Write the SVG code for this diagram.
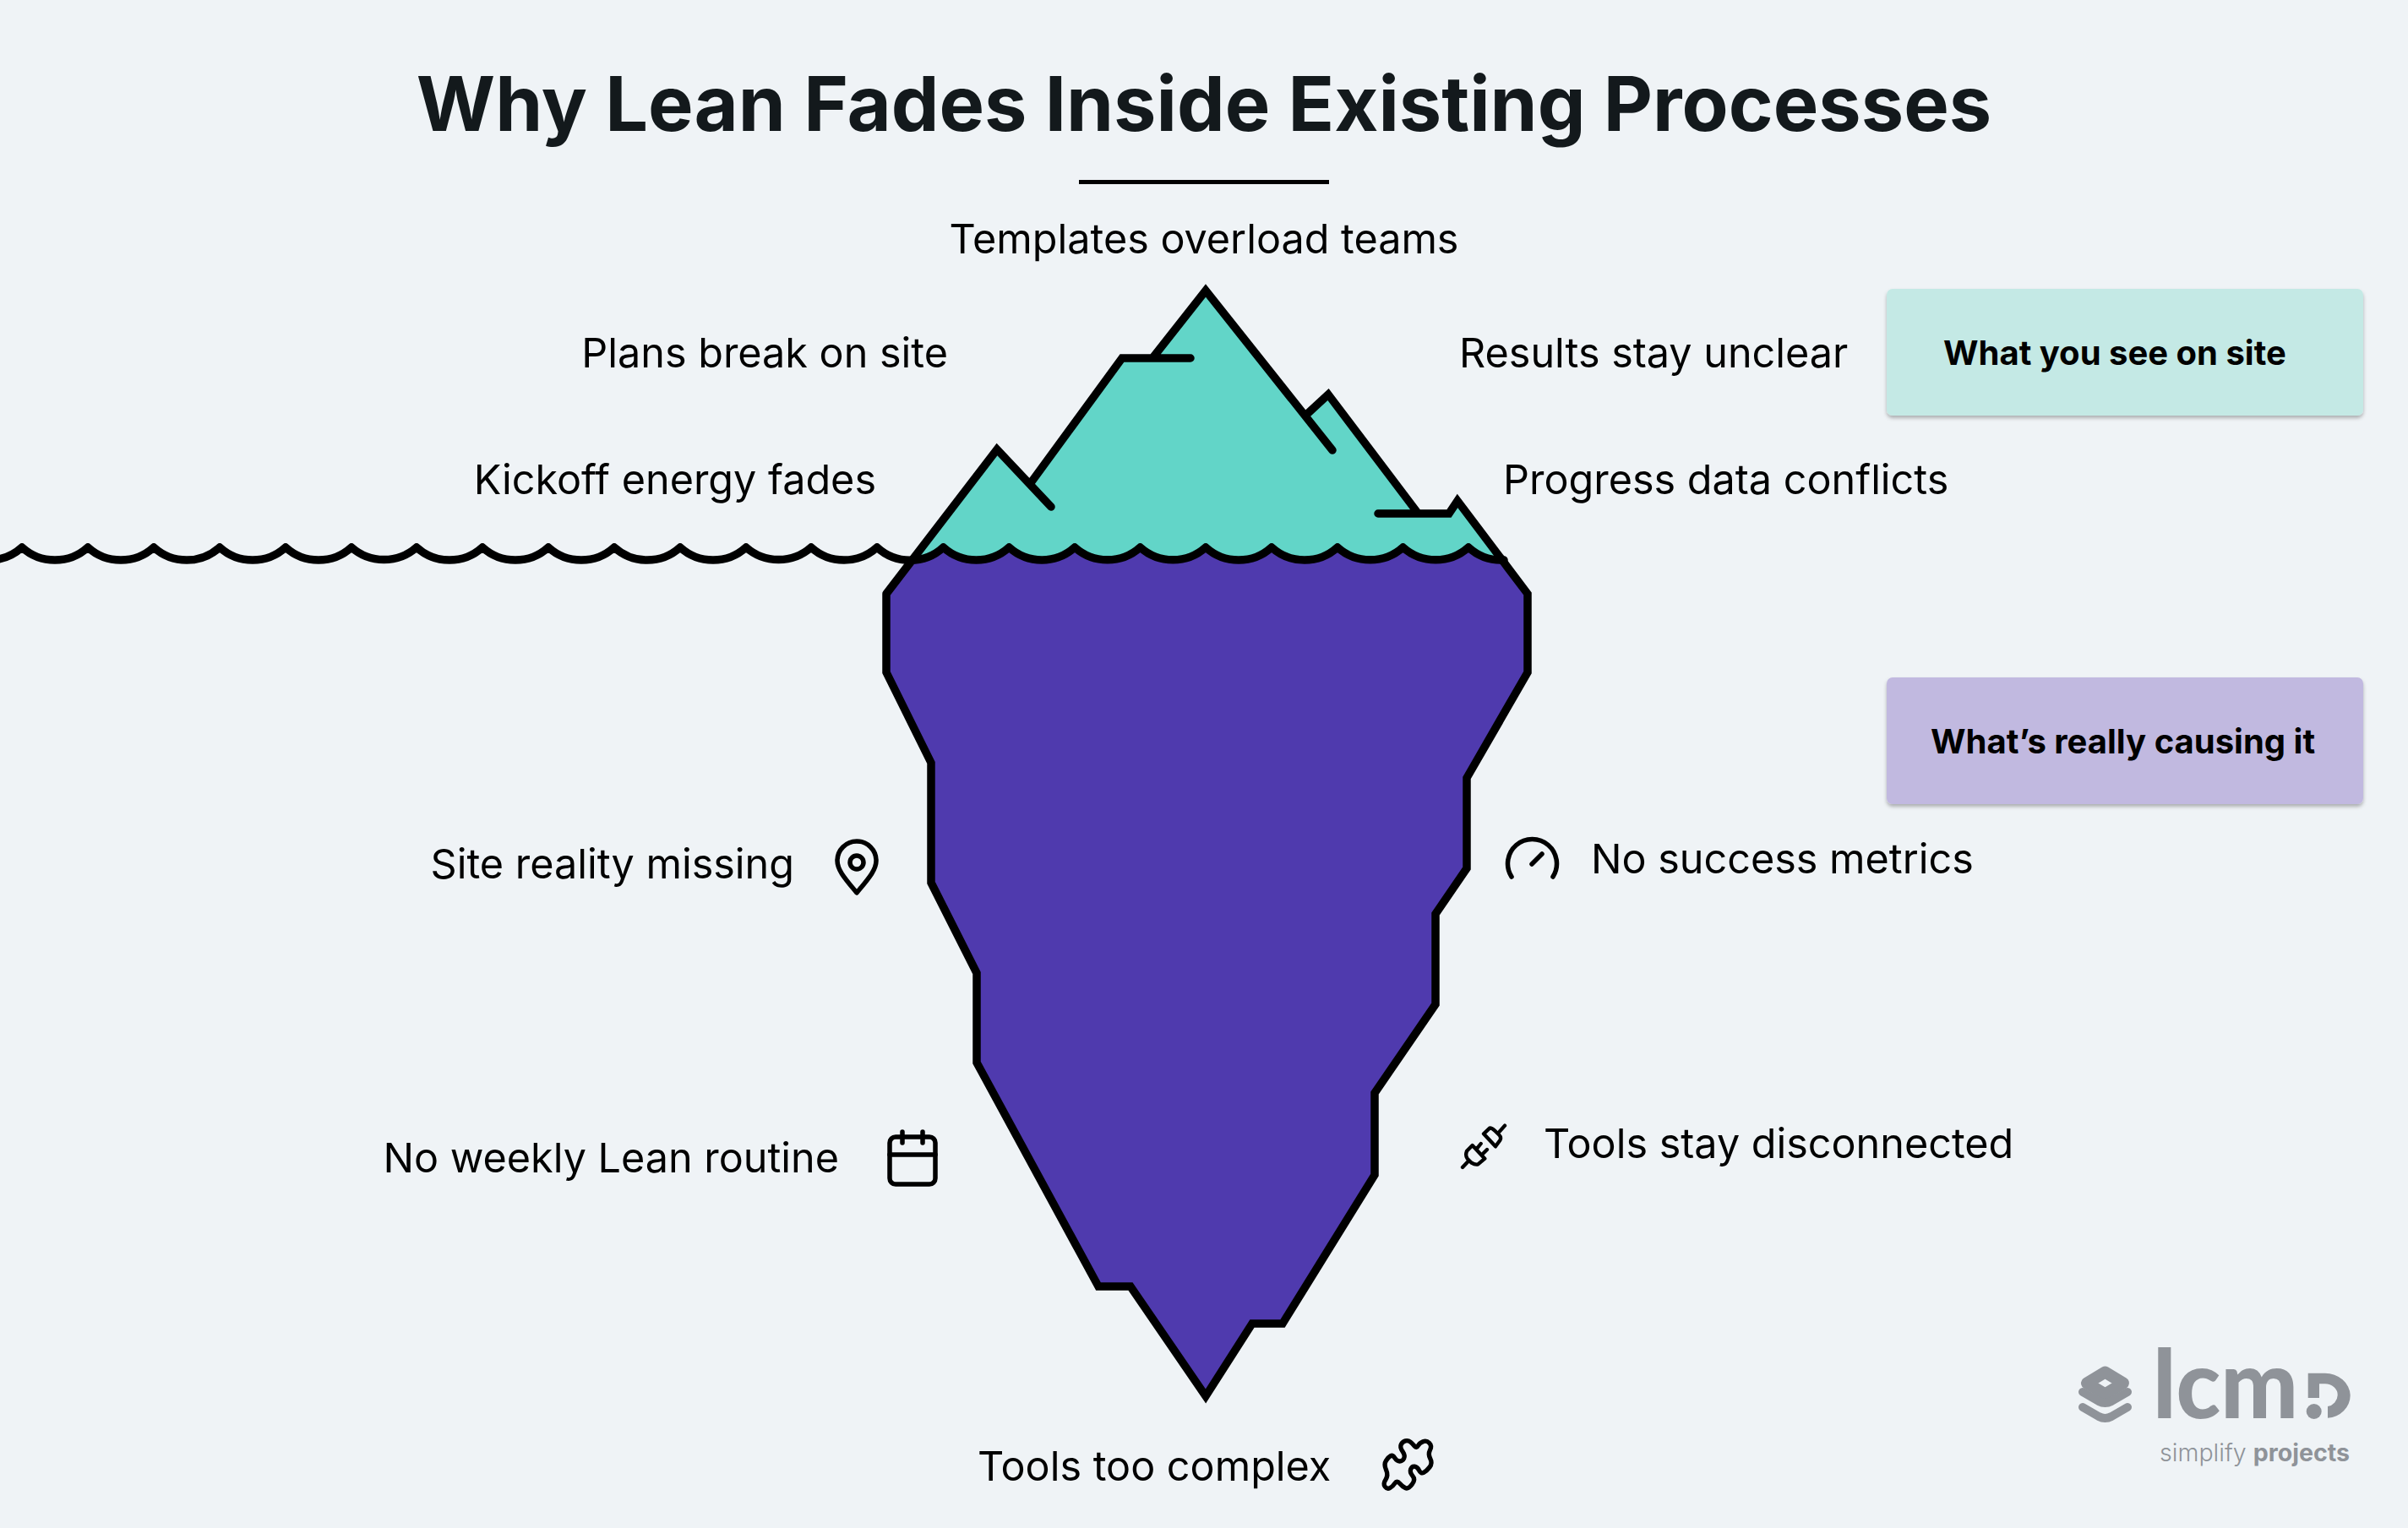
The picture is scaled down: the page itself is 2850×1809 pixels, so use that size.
<svg xmlns="http://www.w3.org/2000/svg" width="2850" height="1809" viewBox="0 0 2850 1809">
<defs>
<style>
text{font-family:Inter,"Liberation Sans",sans-serif}
.t{font-size:48.500px;fill:#000}
.b{font-size:40px;font-weight:700;fill:#000}
.e{stroke:#000;stroke-width:9.5;stroke-linejoin:miter;stroke-linecap:round;fill:none}
.i{stroke:#000;stroke-width:5.5;stroke-linejoin:round;stroke-linecap:round;fill:none}
.l{fill:#8f9399}
.ls{fill:none;stroke:#8f9399;stroke-linecap:round;stroke-linejoin:round}
</style>
<filter id="s" x="-5%" y="-5%" width="110%" height="115%"><feDropShadow dx="0" dy="3" stdDeviation="2" flood-color="#000" flood-opacity="0.28"/></filter>
</defs>
<rect width="2850" height="1809" fill="#eff3f6"/>
<text x="1425" y="155" text-anchor="middle" font-size="90" font-weight="700" fill="#13191c">Why Lean Fades Inside Existing Processes</text>
<rect x="1277" y="213" width="296" height="5" fill="#000"/>

<g id="iceberg">
<path d="M1079 664L1180 532L1219 575L1328 424L1364 424L1427 344L1545 492L1572 467L1677 606L1715 608L1725 593L1780 664Z" fill="#62d5c8"/>
<path id="under" fill="#4f3aae" d="M1079 663A58 58 0 0 0 1116.500 648A58 58 0 0 0 1194.300 648A58 58 0 0 0 1272 648A58 58 0 0 0 1349.500 648A58 58 0 0 0 1427 648A58 58 0 0 0 1505 648A58 58 0 0 0 1583 648A58 58 0 0 0 1660.500 648A58 58 0 0 0 1738 648A58 58 0 0 0 1780 663L1808 703L1808 796L1736 921L1736 1028L1699 1082L1699 1189L1627 1294L1627 1391L1518 1567L1482 1567L1427 1653L1338 1523L1300 1523L1156 1258L1156 1152L1102 1045L1102 903L1049 796L1049 703Z"/>
<path class="e" d="M1049 703L1180 532L1244 600M1219 573L1328 424L1409 424M1364 424L1427 344L1577 533M1545 492L1572 467L1677 606M1631 608L1715 608L1725 593L1808 703L1808 796L1736 921L1736 1028L1699 1082L1699 1189L1627 1294L1627 1391L1518 1567L1482 1567L1427 1653L1338 1523L1300 1523L1156 1258L1156 1152L1102 1045L1102 903L1049 796L1049 703"/>
</g>
<g id="connectors">
<path id="water" class="e" style="stroke-linejoin:round" d="M-52 648A58 58 0 0 0 26 648A58 58 0 0 0 104 648A58 58 0 0 0 182 648A58 58 0 0 0 260 648A58 58 0 0 0 338 648A58 58 0 0 0 416 648A58 58 0 0 0 493 648A58 58 0 0 0 571 648A58 58 0 0 0 649 648A58 58 0 0 0 727 648A58 58 0 0 0 805 648A58 58 0 0 0 883 648A58 58 0 0 0 960 648A58 58 0 0 0 1038 648A58 58 0 0 0 1116.500 648A58 58 0 0 0 1194.300 648A58 58 0 0 0 1272 648A58 58 0 0 0 1349.500 648A58 58 0 0 0 1427 648A58 58 0 0 0 1505 648A58 58 0 0 0 1583 648A58 58 0 0 0 1660.500 648A58 58 0 0 0 1738 648A58 58 0 0 0 1780 663"/>
</g>

<g id="n1"><text class="t" x="1425" y="300" text-anchor="middle">Templates overload teams</text></g>
<g id="n2"><text class="t" x="1122" y="435" text-anchor="end">Plans break on site</text></g>
<g id="n3"><text class="t" x="1037" y="585" text-anchor="end">Kickoff energy fades</text></g>
<g id="n4"><text class="t" x="1727" y="435">Results stay unclear</text></g>
<g id="n5"><text class="t" x="1779" y="585">Progress data conflicts</text></g>

<g id="key1"><rect x="2233" y="342" width="564" height="150" rx="7" fill="#c4e9e5" filter="url(#s)"/><text class="b" x="2300" y="432">What you see on site</text></g>
<g id="key2"><rect x="2233" y="802" width="564" height="150" rx="7" fill="#c1b9e0" filter="url(#s)"/><text class="b" x="2285" y="892">What’s really causing it</text></g>

<g id="n6"><text class="t" x="940" y="1040" text-anchor="end">Site reality missing</text>
<path class="i" d="M1014 1057C1000 1040 991 1030 991 1019A23 23 0 0 1 1037 1019C1037 1030 1028 1040 1014 1057Z"/><circle class="i" cx="1014" cy="1021" r="8"/></g>
<g id="n7"><text class="t" x="993" y="1388" text-anchor="end">No weekly Lean routine</text>
<rect class="i" x="1053" y="1346" width="54" height="56" rx="7"/><path class="i" d="M1053 1367L1107 1367M1068 1340L1068 1353M1092 1340L1092 1353"/></g>
<g id="n8"><text class="t" x="1883" y="1034">No success metrics</text>
<path class="i" d="M1789 1038A29 29 0 1 1 1838 1038M1825 1011L1813 1023"/></g>
<g id="n9"><text class="t" x="1827" y="1371">Tools stay disconnected</text>
<g transform="translate(1720 1320) scale(.3333)"><path class="i" style="stroke-width:13" d="M108 67L150 112L166 90Q172 80 162 70L148 56Q138 46 130 46ZM165 58L183 38M68 108L112 155L88 175Q78 178 65 170L50 155Q42 145 48 128ZM85 118L98 102M105 138L120 123M50 168L33 186"/></g></g>
<g id="n10"><text class="t" x="1157" y="1753">Tools too complex</text>
<g transform="translate(1625 1695) scale(.3333)"><path class="i" style="stroke-width:16" d="M105 70Q95 55 100 45Q105 35 115 32.500Q125 30 132.500 36Q140 42 147.500 51Q155 60 160 50Q165 40 177.500 35Q190 30 200 40Q210 50 202.500 65Q195 80 203.500 96Q212 112 201 126Q190 140 180 145Q170 150 164 137.500Q158 125 148 123.500Q138 122 134 133.500Q130 145 141 157.500Q152 170 138.500 187.500Q125 205 115 200Q105 195 95 183.500Q85 172 77.500 183.500Q70 195 60 200Q50 205 42.500 195Q35 185 45 170Q55 155 46.500 135Q38 115 46.500 102.500Q55 90 62.500 86Q70 82 77.500 93.500Q85 105 95 105Q105 105 110 95Q115 85 105 70Z"/></g></g>

<g id="logo">
<path class="l ls" stroke-width="14" d="M2470 1637.500L2491.500 1624.500L2513 1637.500L2491.500 1650.500Z"/>
<path class="ls" stroke-width="10" d="M2465 1648L2484 1659Q2491.500 1663 2499 1659L2518 1648M2465 1666L2484 1677Q2491.500 1681 2499 1677L2518 1666"/>
<text x="2548" y="1679" font-size="113" font-weight="900" fill="#8f9399" textLength="172" lengthAdjust="spacingAndGlyphs" style="font-family:Lato,sans-serif">lcm</text>
<path class="l" d="M2731.700 1625.700L2751.700 1625.700A30 27 0 0 1 2781.700 1651.700A28 27 0 0 1 2755 1678.700L2755 1665A14 14 0 0 0 2766.700 1651.700A15 13 0 0 0 2751.700 1638.300L2745 1638.300L2745 1655L2731.700 1655Z"/>
<circle class="l" cx="2738.700" cy="1671" r="9"/>
<text x="2556" y="1730" font-size="28.600" fill="#8f9399" font-weight="300">simplify <tspan font-weight="700">projects</tspan></text>
</g>
</svg>
